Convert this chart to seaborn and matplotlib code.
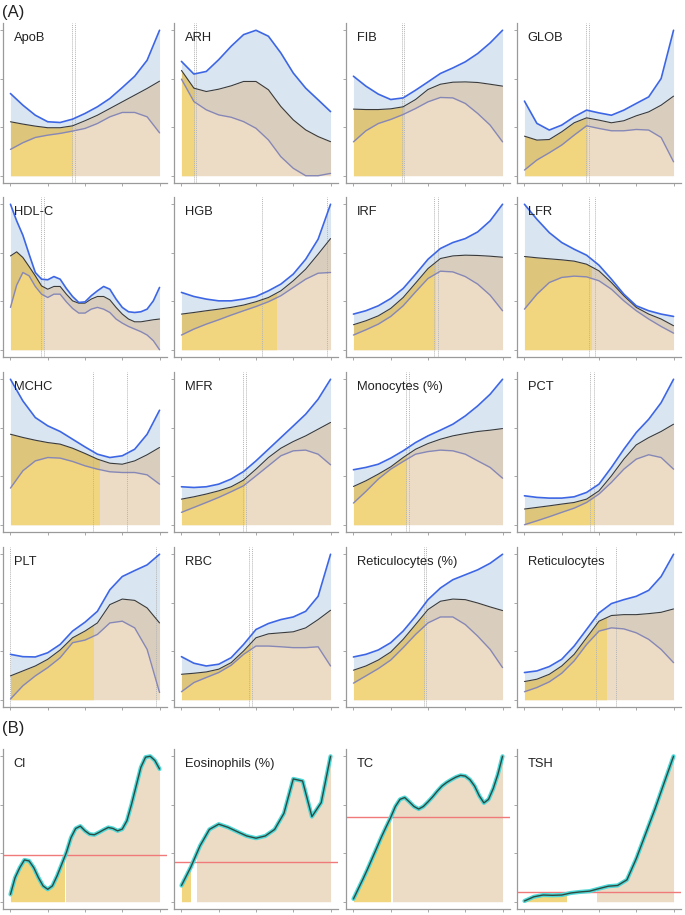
import matplotlib
matplotlib.use("Agg")
import matplotlib.pyplot as plt
import numpy as np
import seaborn as sns
from matplotlib.patches import Rectangle

# ---- (A) panels: upper CI / fitted / lower CI ----
APOB_UP = [56.5, 48.5, 41.6, 37.1, 36.6, 38.9, 42.8, 47.4, 53.1, 60.6, 68.4, 79.4, 100]
APOB_MID = [37.1, 35.5, 34.1, 33.0, 33.0, 34.3, 37.8, 41.6, 46.2, 50.8, 55.4, 60.0, 65.0]
APOB_LOW = [18.1, 22.7, 26.3, 27.9, 29.1, 30.7, 32.5, 35.9, 40.5, 43.5, 43.5, 40.5, 29.5]

ARH_UP = [78.6, 69.9, 71.7, 79.8, 89.0, 97.0, 100, 95.9, 84.4, 70.6, 60.2, 52.2, 44.1]
ARH_MID = [72.4, 60.2, 57.9, 59.5, 61.8, 64.8, 64.8, 59.1, 47.6, 38.4, 31.5, 26.9, 23.4]
ARH_LOW = [66.4, 51.0, 45.3, 41.8, 40.2, 37.2, 32.6, 24.6, 13.1, 5.1, 0.0, 0.0, 1.6]

FIB_UP = [68.4, 61.6, 56.1, 52.4, 53.5, 58.8, 64.5, 70.3, 74.1, 78.3, 84.0, 91.3, 100]
FIB_MID = [45.8, 45.5, 45.5, 46.0, 47.4, 52.4, 59.3, 62.9, 64.3, 64.5, 64.1, 62.9, 61.6]
FIB_LOW = [23.3, 30.9, 35.9, 38.7, 42.1, 46.2, 50.8, 53.8, 53.5, 49.7, 42.8, 34.8, 23.3]

GLOB_UP = [51.3, 36.0, 31.4, 34.8, 40.5, 45.1, 43.2, 41.6, 45.1, 49.7, 54.2, 66.8, 100]
GLOB_MID = [27.2, 24.5, 24.9, 30.2, 36.4, 39.8, 38.2, 36.4, 37.8, 41.2, 43.9, 48.5, 54.7]
GLOB_LOW = [3.9, 10.8, 15.8, 21.1, 27.9, 34.3, 32.5, 30.9, 30.9, 31.8, 31.4, 26.3, 9.6]

HDL_UP = [100, 88.6, 78.7, 65.7, 53.1, 48.5, 48.1, 50.3, 48.5, 42.1, 36.6, 32.5, 32.9,
          37.1, 40.5, 43.5, 41.6, 34.8, 29.1, 26.1, 25.6, 26.1, 27.9, 33.6, 42.8]
HDL_MID = [64.5, 67.3, 63.4, 57.2, 50.8, 43.9, 41.6, 43.5, 43.5, 38.2, 33.6, 32.0, 32.0,
           34.8, 36.6, 36.6, 34.3, 29.1, 24.5, 21.1, 19.2, 19.2, 19.9, 20.6, 21.1]
HDL_LOW = [29.1, 44.4, 53.1, 50.8, 43.5, 38.2, 35.9, 38.2, 38.2, 32.9, 28.4, 25.2, 25.2,
           27.9, 29.1, 27.9, 25.6, 21.1, 18.3, 16.0, 14.2, 12.4, 10.1, 6.2, 0.0]

HGB_UP = [39.4, 36.6, 34.8, 33.6, 33.6, 34.8, 36.6, 40.5, 45.1, 52.0, 62.2, 76.0, 100]
HGB_MID = [24.5, 25.6, 26.8, 27.9, 29.1, 30.7, 33.0, 35.9, 40.5, 47.4, 55.4, 65.7, 76.4]
HGB_LOW = [10.1, 14.2, 17.6, 20.6, 23.8, 26.8, 29.7, 33.0, 37.1, 42.8, 48.5, 52.6, 53.1]

IRF_UP = [24.5, 26.8, 30.2, 35.2, 42.1, 51.9, 62.2, 69.6, 73.7, 76.4, 81.0, 88.6, 100]
IRF_MID = [17.2, 19.9, 23.3, 28.4, 35.9, 45.8, 55.8, 62.7, 64.5, 65.0, 64.8, 64.3, 63.6]
IRF_LOW = [10.1, 13.7, 17.6, 22.9, 30.2, 39.8, 49.0, 54.0, 53.5, 50.3, 45.1, 37.5, 26.8]

LFR_UP = [100, 89.7, 80.5, 73.7, 69.1, 65.0, 58.1, 48.5, 38.2, 30.2, 26.8, 24.5, 22.9]
LFR_MID = [64.1, 63.2, 62.5, 61.8, 60.9, 58.8, 54.2, 46.2, 37.1, 29.1, 24.5, 21.1, 16.5]
LFR_LOW = [27.9, 38.2, 46.2, 49.7, 50.6, 50.1, 47.4, 41.6, 33.6, 26.8, 21.1, 16.0, 11.4]

MCHC_UP = [100, 85.1, 73.7, 68.0, 64.1, 58.8, 53.5, 48.5, 46.2, 47.4, 51.9, 62.2, 78.7]
MCHC_MID = [62.2, 60.0, 58.1, 56.5, 55.4, 52.6, 49.0, 45.1, 42.3, 41.6, 43.9, 48.1, 53.1]
MCHC_LOW = [25.2, 37.1, 43.9, 46.2, 45.8, 43.5, 40.5, 38.2, 36.4, 35.9, 35.9, 34.3, 27.9]

MFR_UP = [26.1, 25.6, 26.1, 27.9, 31.4, 36.6, 43.9, 51.9, 59.9, 67.9, 76.0, 86.3, 100]
MFR_MID = [17.6, 19.2, 21.1, 23.3, 26.1, 30.7, 38.2, 46.2, 52.6, 57.2, 61.1, 65.7, 70.3]
MFR_LOW = [8.5, 11.9, 15.3, 18.8, 22.7, 26.8, 33.6, 40.5, 47.4, 50.8, 51.3, 48.5, 41.2]

MONO_UP = [37.8, 39.4, 41.6, 45.8, 50.8, 56.5, 61.1, 65.0, 69.1, 74.8, 81.7, 89.7, 100]
MONO_MID = [26.3, 30.2, 34.8, 39.8, 46.2, 51.9, 55.8, 58.8, 61.1, 62.7, 64.1, 65.0, 66.1]
MONO_LOW = [14.9, 22.9, 31.4, 38.2, 43.5, 48.5, 50.3, 51.3, 50.8, 48.5, 43.9, 39.4, 32.0]

PCT_UP = [19.9, 18.8, 18.3, 18.3, 19.2, 22.2, 27.9, 39.4, 51.9, 63.4, 72.5, 83.9, 100]
PCT_MID = [10.8, 11.9, 13.0, 14.2, 15.3, 17.6, 23.3, 33.6, 45.1, 54.9, 59.9, 64.1, 69.1]
PCT_LOW = [0.0, 2.7, 5.5, 8.5, 11.4, 15.3, 21.1, 29.1, 38.2, 45.1, 48.1, 46.2, 38.2]

PLT_UP = [31.2, 29.6, 29.4, 32.3, 38.0, 47.2, 53.3, 60.8, 75.6, 84.7, 88.8, 92.7, 100]
PLT_MID = [16.4, 19.8, 23.2, 27.8, 34.2, 42.6, 47.2, 52.8, 65.4, 69.2, 68.3, 63.1, 52.8]
PLT_LOW = [0.5, 9.6, 16.4, 22.1, 28.9, 39.2, 41.0, 44.9, 52.8, 54.0, 49.4, 34.6, 5.0]

RBC_UP = [29.6, 25.1, 23.2, 24.4, 28.9, 38.0, 48.3, 52.4, 55.1, 56.9, 60.8, 71.1, 100]
RBC_MID = [17.5, 18.2, 19.1, 21.0, 25.5, 33.5, 42.6, 45.3, 46.0, 46.7, 49.4, 55.1, 61.5]
RBC_LOW = [5.5, 11.8, 15.3, 18.7, 23.7, 31.2, 36.9, 36.9, 36.4, 35.8, 35.8, 36.4, 23.2]

RETP_UP = [29.4, 31.2, 34.2, 39.2, 47.2, 57.4, 68.8, 76.8, 82.5, 85.9, 89.3, 93.8, 100]
RETP_MID = [20.3, 23.2, 27.3, 32.8, 41.5, 51.7, 62.0, 67.7, 69.2, 68.8, 66.5, 63.8, 61.3]
RETP_LOW = [11.4, 16.4, 21.4, 27.3, 35.8, 44.9, 52.8, 56.9, 56.9, 51.7, 43.7, 34.6, 22.1]

RET_UP = [18.7, 19.8, 22.8, 27.8, 36.9, 48.3, 59.7, 66.1, 68.8, 71.1, 75.2, 84.7, 100]
RET_MID = [12.5, 14.1, 17.5, 23.2, 31.2, 42.6, 54.0, 57.9, 58.5, 58.5, 59.2, 60.1, 62.4]
RET_LOW = [5.5, 8.4, 12.3, 18.2, 26.7, 38.0, 47.2, 49.4, 48.7, 46.0, 41.5, 34.6, 25.5]

A_NAMES = ["ApoB", "ARH", "FIB", "GLOB", "HDL-C", "HGB", "IRF", "LFR",
           "MCHC", "MFR", "Monocytes (%)", "PCT", "PLT", "RBC",
           "Reticulocytes (%)", "Reticulocytes"]
A_UP = [APOB_UP, ARH_UP, FIB_UP, GLOB_UP, HDL_UP, HGB_UP, IRF_UP, LFR_UP,
        MCHC_UP, MFR_UP, MONO_UP, PCT_UP, PLT_UP, RBC_UP, RETP_UP, RET_UP]
A_MID = [APOB_MID, ARH_MID, FIB_MID, GLOB_MID, HDL_MID, HGB_MID, IRF_MID, LFR_MID,
         MCHC_MID, MFR_MID, MONO_MID, PCT_MID, PLT_MID, RBC_MID, RETP_MID, RET_MID]
A_LOW = [APOB_LOW, ARH_LOW, FIB_LOW, GLOB_LOW, HDL_LOW, HGB_LOW, IRF_LOW, LFR_LOW,
         MCHC_LOW, MFR_LOW, MONO_LOW, PCT_LOW, PLT_LOW, RBC_LOW, RETP_LOW, RET_LOW]
# end of the yellow (lower) segment and the two dotted reference lines
A_CUT = [0.41, 0.085, 0.33, 0.42, 0.216, 0.632, 0.55, 0.445,
         0.595, 0.42, 0.355, 0.467, 0.555, 0.457, 0.475, 0.545]
A_VL1 = [0.41, 0.085, 0.325, 0.415, 0.205, 0.542, 0.54, 0.433,
         0.556, 0.41, 0.35, 0.44, 0.0, 0.45, 0.47, 0.478]
A_VL2 = [0.43, 0.10, 0.34, 0.435, 0.227, 0.973, 0.57, 0.47,
         0.78, 0.435, 0.375, 0.467, 0.978, 0.47, 0.487, 0.615]

# ---- (B) panels ----
CL = [5.0, 16.5, 23.3, 28.6, 27.9, 23.3, 16.5, 10.8, 8.5, 10.8, 17.6, 25.6, 33.6,
      43.9, 50.1, 51.7, 48.5, 46.2, 45.8, 47.4, 49.2, 50.8, 50.1, 48.5, 49.7, 55.4,
      66.8, 79.4, 92.0, 98.9, 99.5, 96.6, 90.8]
EOS = [10.7, 22.9, 37.1, 47.9, 51.4, 49.3, 46.4, 43.6, 42.1, 43.6, 47.9, 58.6, 81.4,
       80.0, 56.4, 65.7, 96.4]
TC = [1.9, 8.4, 14.9, 21.7, 28.9, 36.1, 43.4, 50.1, 56.6, 63.9, 68.7, 69.9, 67.0,
      63.9, 62.2, 63.9, 67.0, 70.4, 74.2, 77.6, 80.0, 81.9, 83.6, 84.8, 84.3, 81.9,
      77.6, 71.1, 66.3, 68.7, 75.9, 85.5, 97.6]
TSH = [0.5, 3.3, 4.5, 4.3, 4.5, 5.9, 6.6, 7.1, 8.8, 10.4, 10.9, 14.7, 28.9, 45.5,
       62.1, 79.9, 97.6]
B_NAMES = ["Cl", "Eosinophils (%)", "TC", "TSH"]
B_CURVES = [CL, EOS, TC, TSH]
B_REF = [31.8, 26.4, 56.9, 6.2]
B_YEL_END = [0.36, 0.06, 0.244, 0.28]
B_TAN_START = [0.375, 0.106, 0.267, 0.489]

YELLOW = "#f1d57f"
YELLOW_DARK = "#ddc57b"
TAN = "#ecdcc6"
TAN_DARK = "#d9cebe"
BAND = "#d9e5f0"


def clip_x(artist, ax, x0, x1):
    rect = Rectangle((x0, -1e4), x1 - x0, 2e4, transform=ax.transData)
    artist.set_clip_path(rect)


def style_axes(ax, top):
    ax.set_xlim(-0.05, 1.05)
    ax.set_ylim(-0.05 * top, 1.05 * top)
    sns.despine(ax=ax)
    for side in ["left", "bottom"]:
        ax.spines[side].set_color("#9a9a9a")
        ax.spines[side].set_linewidth(0.9)
    ax.set_xticks([0, 0.25, 0.5, 0.75, 1.0])
    ax.set_yticks(np.linspace(0, top, 4))
    ax.tick_params(length=2.5, width=0.6, colors="#9a9a9a",
                   labelleft=False, labelbottom=False)


sns.set_style("ticks")
plt.rcParams["font.family"] = ["Liberation Sans", "DejaVu Sans"]

fig = plt.figure(figsize=(6.85, 9.15), dpi=100)
W, H = 685, 915
lefts = [3, 174, 346, 517]
bottoms = [183, 357, 532, 707]
pw, ph = 164, 160

for i, name in enumerate(A_NAMES):
    r, c = divmod(i, 4)
    ax = fig.add_axes([lefts[c] / W, 1 - bottoms[r] / H, pw / W, ph / H])
    up = np.array(A_UP[i])
    mid = np.array(A_MID[i])
    low = np.array(A_LOW[i])
    x = np.linspace(0, 1, len(up))
    cut = A_CUT[i]

    ax.fill_between(x, mid, up, color=BAND, lw=0)
    ax.fill_between(x, 0, low, color=TAN, lw=0)
    ax.fill_between(x, low, mid, color=TAN_DARK, lw=0)
    f1 = ax.fill_between(x, 0, low, color=YELLOW, lw=0)
    f2 = ax.fill_between(x, low, mid, color=YELLOW_DARK, lw=0)
    clip_x(f1, ax, -0.1, cut)
    clip_x(f2, ax, -0.1, cut)

    for xv in (A_VL1[i], A_VL2[i]):
        ax.axvline(xv, color="#b5b5b5", lw=0.7, ls=(0, (1, 1)))

    sns.lineplot(x=x, y=low, ax=ax, color="#8787b5", lw=1.0)
    sns.lineplot(x=x, y=mid, ax=ax, color="#3a3a3a", lw=0.8)
    sns.lineplot(x=x, y=up, ax=ax, color="#3d66e4", lw=1.2)

    style_axes(ax, up.max())
    ax.text(0.065, 0.905, name, transform=ax.transAxes, ha="left", va="center",
            fontsize=9.3, color="#222222")

b_bottom = 909
for i, name in enumerate(B_NAMES):
    ax = fig.add_axes([lefts[i] / W, 1 - b_bottom / H, pw / W, ph / H])
    y = np.array(B_CURVES[i])
    x = np.linspace(0, 1, len(y))
    fy = ax.fill_between(x, 0, y, color=YELLOW, lw=0)
    clip_x(fy, ax, -0.1, B_YEL_END[i])
    ft = ax.fill_between(x, 0, y, color=TAN, lw=0)
    clip_x(ft, ax, B_TAN_START[i], 1.1)
    ax.axhline(B_REF[i], color="#f07a7a", lw=1.0)
    sns.lineplot(x=x, y=y, ax=ax, color="#4fd8d8", lw=3.0)
    sns.lineplot(x=x, y=y, ax=ax, color="#2e4a40", lw=1.0)
    style_axes(ax, y.max())
    ax.text(0.065, 0.905, name, transform=ax.transAxes, ha="left", va="center",
            fontsize=9.3, color="#222222")

fig.text(2 / W, 1 - 12 / H, "(A)", fontsize=12, ha="left", va="center", color="#222222")
fig.text(2 / W, 1 - 728 / H, "(B)", fontsize=12, ha="left", va="center", color="#222222")

fig.savefig("out.png", dpi=100)
